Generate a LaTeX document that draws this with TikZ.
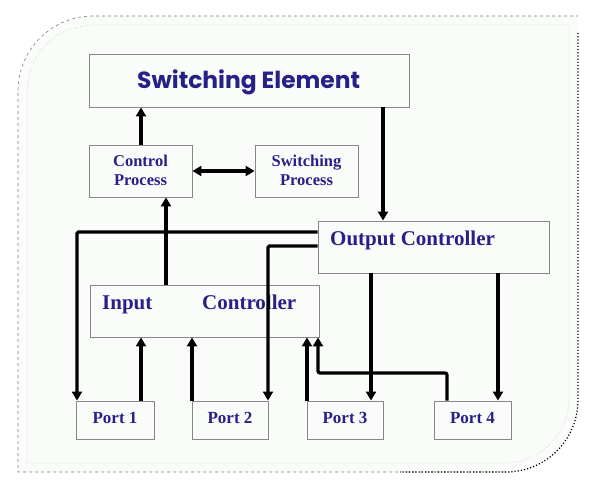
\documentclass[tikz,border=0pt]{standalone}
\usepackage{fontspec}
\setmainfont{Liberation Serif}
\newfontfamily\sefont{Poppins}
\usetikzlibrary{arrows.meta}
\definecolor{txtblue}{RGB}{38,32,135}
\definecolor{boxgray}{RGB}{135,135,135}
\definecolor{bgfill}{RGB}{250,252,250}
\tikzset{
  box/.style={draw=boxgray, line width=0.9pt, fill=bgfill, inner sep=0pt},
  lbl/.style={text=txtblue, font=\bfseries\fontsize{16.5}{19}\selectfont, align=center, inner sep=0pt},
  ctl/.style={text=txtblue, font=\bfseries\fontsize{21}{24}\selectfont, inner sep=0pt, anchor=base west},
  conn/.style={line width=3.2pt, draw=black},
  arr/.style={conn, -{Triangle[width=10pt,length=9pt]}},
  darr/.style={conn, {Triangle[width=10pt,length=9pt]}-{Triangle[width=10pt,length=9pt]}},
}
\begin{document}
\begin{tikzpicture}[x=1pt,y=-1pt]
\useasboundingbox (0,0) rectangle (595,489);
% background frame
\path[fill=bgfill] (18,472) -- (18,91) .. controls (18,49.6) and (51.6,16) .. (93,16) -- (578,16) -- (578,400) .. controls (578,439.8) and (545.8,472) .. (506,472) -- cycle;
\draw[boxgray!70, line width=0.5pt, dotted] (27,463) -- (27,94) .. controls (27,55) and (54,25) .. (96,25) -- (569,25) -- (569,398) .. controls (569,434) and (540,463) .. (504,463) -- cycle;
\draw[gray, line width=0.6pt, dashed] (506,472) -- (18,472) -- (18,91) .. controls (18,49.6) and (51.6,16) .. (93,16) -- (578,16);
\draw[black, line width=1.2pt, dotted] (578,33) -- (578,400) .. controls (578,439.8) and (545.8,472) .. (506,472) -- (400,472);

% boxes
\node[box, minimum width=320pt, minimum height=53pt] (SE) at (249,80.5) {};
\node[box, minimum width=103pt, minimum height=52pt] (CP) at (140.5,171) {};
\node[box, minimum width=103pt, minimum height=52pt] (SP) at (306.5,171) {};
\node[box, minimum width=231pt, minimum height=52pt] (OC) at (433.5,247) {};
\node[box, minimum width=229pt, minimum height=52pt] (IC) at (204.5,311) {};
\node[box, minimum width=78pt, minimum height=38pt] (P1) at (115,420) {};
\node[box, minimum width=76pt, minimum height=38pt] (P2) at (230,420) {};
\node[box, minimum width=76pt, minimum height=38pt] (P3) at (345,420) {};
\node[box, minimum width=77pt, minimum height=38pt] (P4) at (472.5,420) {};

% texts
\node[text=txtblue, font=\sefont\bfseries\fontsize{23.4}{27}\selectfont, anchor=base west, inner sep=0pt] (tSE) at (137,89) {Switching Element};
\node[lbl, anchor=base] (tCP) at (140.5,186) {Control\\Process};
\node[lbl, anchor=base] (tSP) at (306.5,186) {Switching\\Process};
\node[ctl] (tOC) at (330,246) {Output Controller};
\node[ctl] (tIn) at (102,310) {Input};
\node[ctl] (tCo) at (202,310) {Controller};
\node[lbl, font=\bfseries\fontsize{17}{20}\selectfont, anchor=base] (t1) at (115,423) {Port 1};
\node[lbl, font=\bfseries\fontsize{17}{20}\selectfont, anchor=base] (t2) at (230,423) {Port 2};
\node[lbl, font=\bfseries\fontsize{17}{20}\selectfont, anchor=base] (t3) at (345,423) {Port 3};
\node[lbl, font=\bfseries\fontsize{17}{20}\selectfont, anchor=base] (t4) at (472.5,423) {Port 4};

% helper coordinates
\coordinate (x77) at (77,0);
\coordinate (x141) at (141,0);
\coordinate (x166) at (166,0);
\coordinate (x192) at (192,0);
\coordinate (x268) at (268,0);
\coordinate (x307) at (307,0);
\coordinate (x318) at (318,0);
\coordinate (x371) at (371,0);
\coordinate (x383) at (383,0);
\coordinate (x447) at (447,0);
\coordinate (x498) at (498,0);
\coordinate (y232) at (0,232);
\coordinate (y246) at (0,246);
\coordinate (k4) at (318,373);

% connectors
\draw[arr] (CP.north -| x141) -- (SE.south -| x141);
\draw[darr] (CP.east) -- (SP.west);
\draw[arr] (SE.south -| x383) -- (OC.north -| x383);
\draw[arr] (IC.north -| x166) -- (CP.south -| x166);
\draw[arr, rounded corners=1.5pt] (OC.west |- y232) -| (P1.north -| x77);
\draw[arr, rounded corners=1.5pt] (OC.west |- y246) -| (P2.north -| x268);
\draw[arr] (P1.north -| x141) -- (IC.south -| x141);
\draw[arr] (P2.north -| x192) -- (IC.south -| x192);
\draw[arr] (P3.north -| x307) -- (IC.south -| x307);
\draw[arr] (OC.south -| x371) -- (P3.north -| x371);
\draw[arr, rounded corners=2pt] (P4.north -| x447) |- (k4) -- (IC.south -| x318);
\draw[arr] (OC.south -| x498) -- (P4.north -| x498);
\end{tikzpicture}
\end{document}
